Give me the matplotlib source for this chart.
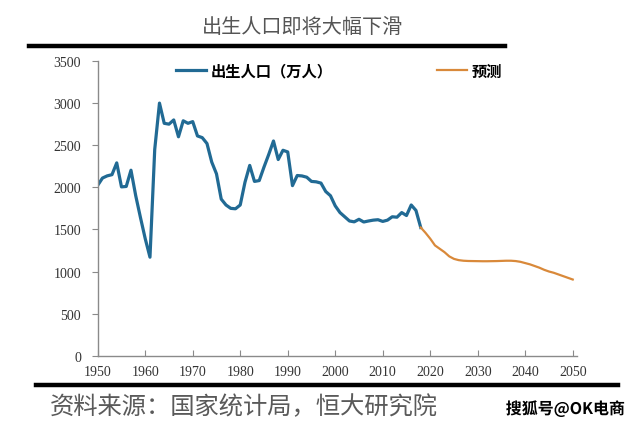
import matplotlib
matplotlib.use("Agg")
import matplotlib.pyplot as plt
import matplotlib.patheffects as pe
from matplotlib.lines import Line2D

plt.rcParams['font.family'] = ['Noto Sans CJK SC', 'DejaVu Sans']

# 出生人口（万人），读图估计
hist_years = list(range(1950, 2019))
hist_births = [2024, 2110, 2136, 2150, 2290, 2005, 2010, 2203, 1900, 1640,
               1390, 1170, 2450, 3000, 2760, 2750, 2800, 2600, 2790, 2760,
               2780, 2610, 2590, 2520, 2300, 2160, 1860, 1790, 1750, 1745,
               1790, 2060, 2260, 2070, 2080, 2240, 2390, 2550, 2330, 2440,
               2420, 2020, 2140, 2135, 2120, 2070, 2065, 2050, 1950, 1900,
               1780, 1700, 1650, 1600, 1590, 1620, 1588, 1600, 1610, 1615,
               1595, 1610, 1650, 1645, 1700, 1665, 1790, 1725, 1523]

fc_years = list(range(2018, 2051))
fc_births = [1523, 1460, 1390, 1310, 1270, 1230, 1180, 1150, 1135, 1128,
             1125, 1124, 1123, 1122, 1122, 1123, 1124, 1126, 1128, 1128,
             1124, 1115, 1100, 1085, 1065, 1045, 1020, 1000, 985, 965,
             945, 925, 905]

x_ticks = list(range(1950, 2051, 10))
y_ticks = list(range(0, 3501, 500))

fig = plt.figure(figsize=(6.4, 4.27), dpi=100)
ax = fig.add_axes([0.1527, 0.1646, 0.7496, 0.6902])

ax.plot(hist_years, hist_births, color='#216a94', lw=2.3, label='出生人口（万人）')
ax.plot(fc_years, fc_births, color='#d9893a', lw=1.6, label='预测')

ax.set_xlim(1950, 2051)
ax.set_ylim(0, 3500)
ax.set_xticks(x_ticks)
ax.set_yticks(y_ticks)

for s in ['top', 'right']:
    ax.spines[s].set_visible(False)
for s in ['left', 'bottom']:
    ax.spines[s].set_color('#8a8a8a')
    ax.spines[s].set_linewidth(1.0)

ax.tick_params(axis='x', direction='in', length=4, color='#8a8a8a', pad=7)
ax.tick_params(axis='y', direction='out', length=4, color='#8a8a8a', pad=8)
for lab in ax.get_xticklabels() + ax.get_yticklabels():
    lab.set_fontfamily('Liberation Serif')
    lab.set_fontsize(10)
    lab.set_color('#333333')

leg = ax.legend(ncol=2, loc='upper left', bbox_to_anchor=(0.134, 1.041),
                frameon=False, handlelength=2.0, handletextpad=0.3,
                columnspacing=6.8, prop={'size': 11, 'weight': 'bold'})

# 标题与上下粗线
fig.text(0.472, 0.936, '出生人口即将大幅下滑', ha='center', va='center',
         fontsize=14.5, color='#555555')
fig.add_artist(Line2D([29 / 640, 505 / 640], [0.8899, 0.8899], color='black', lw=3.2))
fig.add_artist(Line2D([36 / 640, 618 / 640], [0.096, 0.096], color='black', lw=3.2))

fig.text(50 / 640, 0.047, '资料来源：国家统计局，恒大研究院', ha='left', va='center',
         fontsize=17.5, color='#5a5a5a')
fig.text(625 / 640, 0.04, '搜狐号@OK电商', ha='right', va='center',
         fontsize=11.5, fontweight='bold', color='black',
         path_effects=[pe.withStroke(linewidth=2.5, foreground='white')])

fig.savefig('out.png', dpi=100)
plt.close(fig)
